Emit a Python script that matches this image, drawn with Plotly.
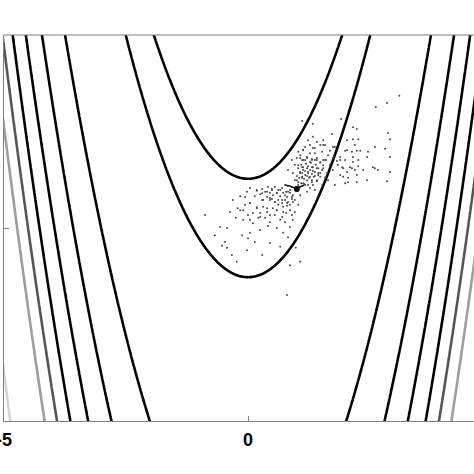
import numpy as np
import plotly.graph_objects as go

# ---- axis settings / tick labels ----
x_range = [-5.0, 4.631]
y_range = [-4.0, 4.0]
x_ticks = [-5, 0, 5]
x_ticklabels = ["-5", "0", "5"]
y_ticks = [0]

# ---- banana-shaped target: g(u, v) = v - curvature * u^2 ----
ridge_curvature = 0.8
contour_levels = [1.02, -1.02, -7.24, -10.26, -12.58, -14.6, -16.25, -17.9, -23.0]
contour_colors = ["#000000", "#000000", "#000000", "#000000", "#000000", "#000000",
                  "#555555", "#9d9d9d", "#d4d4d4"]

# ---- samples ----
sample_u = [3.10, 2.85, 2.62, 1.11, 1.33, 1.91, 2.15, 2.23, 1.72, 2.87, 2.91, 1.33, 1.23, 1.41, 1.54,
            1.58, 1.48, 1.27, 1.17, 1.33, 2.03, 2.15, 2.26, 2.19, 2.60, 2.81, 1.03, 1.13, 1.27, 1.37,
            1.52, 1.68, 1.74, 1.99, 2.13, 2.23, 2.30, 2.46, 2.44, 2.91, 1.00, 1.11, 1.21, 1.31, 1.41,
            1.54, 1.64, 1.74, 1.82, 1.89, 1.99, 2.15, 2.26, 2.09, 1.95, 1.84, 2.19, 2.36, 2.60, 2.66,
            2.91, 2.56, 2.26, 1.68, 1.74, 1.62, 1.89, 2.05, 2.23, 2.44, 2.85, 1.99,
            1.03, 1.09, 1.13, 1.19, 1.23, 1.29, 1.33, 1.39, 1.44, 1.07, 1.11, 1.17, 1.23, 1.27, 1.31,
            1.37, 1.44, 1.48, 1.00, 1.05, 1.11, 1.15, 1.21, 1.25, 1.31, 1.35, 1.41, 1.13, 1.21, 1.31,
            1.41, 1.03, 1.09, 1.15, 0.96, 0.92, 0.76, 0.82, 0.90, 0.96, 1.07, 1.11, 1.17,
            0.41, 0.49, 0.55, 0.62, 0.70, 0.45, 0.51, 0.59, 0.66, 0.72, 0.80, 0.86, 0.92, 0.76, 0.82,
            0.90, 0.62, 0.70, 0.55, 0.96, 0.86, 0.78, 0.39, 0.49,
            0.04, 0.18, 0.29, -0.31, -0.88, -0.37, -0.21, -0.10, 0.04, 0.10, 0.18, 0.25, 0.31, 0.39,
            0.51, 0.59, 0.72, 0.80, 0.86, -0.10, 0.10, 0.25, -0.57, -0.43, -0.68, -0.12, 0.04, 0.00,
            0.14, -0.47, -0.53, -0.43, -0.02, 0.45, 0.66, 0.59, 0.72, 0.82, 0.86, 0.92, 0.76, 0.70,
            0.86, 0.29, 0.80,
            -0.06, 0.35, 0.45, 0.55, 0.66, 0.41, 0.21, 0.00, -0.25, 0.96, 0.78, 0.62, 0.29, 0.14,
            0.25, 0.35, -0.02, -0.16, 0.45, 1.07, 1.03, 0.90, -0.33, -0.23, 1.07, 0.98,
            1.52, 1.64, 1.78, 1.58, 1.54, 1.48, 1.60, 0.96, 0.90, 1.07, 0.82, 1.27, 1.37, 1.21,
            1.03, 1.11, 1.13, 1.21, 1.23, 1.31, 1.33, 1.41, 1.44, 1.52, 1.07, 1.17, 1.27, 1.37, 1.48,
            1.11, 1.21, 1.31, 1.41, 1.13, 1.23, 1.33, 1.00, 1.03, 1.54, 1.58, 1.48, 1.37, 1.27, 1.17,
            1.07, 1.93, 2.03, 2.13, 1.95, 2.23, 2.05, 1.89, 2.15, 2.03, 1.78, 1.54, 1.37, 1.13,
            0.18, 0.29, 0.39, 0.49, 0.59, 0.66, 0.76, 0.82, 0.90, 0.31, 0.45, 0.55, 0.70, 0.80, 0.92,
            0.04, 0.18, 0.39, 0.59, 0.72, 0.86, -0.06, -0.16, 0.45, 0.25, 0.04]
sample_v = [2.74, 2.59, 2.51, 2.22, 2.16, 2.26, 2.09, 2.05, 1.95, 1.97, 1.84, 1.89, 1.82, 1.78, 1.82,
            1.72, 1.72, 1.72, 1.68, 1.66, 1.82, 1.84, 1.84, 1.72, 1.68, 1.64, 1.58, 1.62, 1.55, 1.55,
            1.58, 1.60, 1.68, 1.60, 1.58, 1.60, 1.60, 1.58, 1.47, 1.47, 1.45, 1.41, 1.47, 1.41, 1.45,
            1.41, 1.51, 1.45, 1.39, 1.47, 1.41, 1.37, 1.41, 1.26, 1.24, 1.31, 1.20, 1.20, 1.24, 1.20,
            1.16, 1.26, 1.28, 1.31, 1.20, 1.14, 1.10, 1.04, 0.95, 0.99, 0.97, 0.93,
            1.24, 1.31, 1.26, 1.33, 1.28, 1.35, 1.26, 1.31, 1.24, 1.16, 1.14, 1.18, 1.14, 1.20, 1.12,
            1.16, 1.10, 1.14, 1.08, 1.04, 1.06, 1.02, 1.08, 1.04, 0.99, 1.06, 0.97, 1.41, 1.45, 1.43,
            1.41, 0.95, 0.93, 0.91, 0.99, 1.14, 0.89, 0.87, 0.85, 0.83, 0.85, 0.87, 0.89,
            0.85, 0.81, 0.85, 0.79, 0.83, 0.73, 0.68, 0.73, 0.66, 0.73, 0.64, 0.73, 0.68, 0.58, 0.54,
            0.60, 0.58, 0.52, 0.54, 0.58, 0.79, 0.75, 0.64, 0.60,
            0.83, 0.77, 0.81, 0.58, 0.27, 0.33, 0.41, 0.37, 0.52, 0.31, 0.41, 0.31, 0.44, 0.33,
            0.41, 0.37, 0.44, 0.46, 0.48, 0.17, 0.10, -0.04, 0.02, 0.00, -0.15, -0.15, -0.10, -0.21,
            -0.29, -0.29, -0.37, -0.41, -0.46, -0.31, -0.39, 0.00, -0.10, -0.19, 0.02, 0.17, 0.12, 0.23,
            -0.77, -0.56, -1.39,
            0.48, 0.21, 0.12, 0.27, 0.17, 0.04, 0.21, 0.27, 0.21, 0.33, 0.31, 0.48, 0.58, 0.66,
            0.70, 0.75, 0.75, 0.66, 0.58, 0.68, 0.48, 0.27, -0.56, -0.70, -0.70, -0.41,
            0.89, 0.99, 0.89, 1.04, 1.24, 1.35, 1.41, 1.31, 1.41, 1.51, 1.20, 0.83, 0.79, 0.75,
            1.30, 1.26, 1.20, 1.24, 1.16, 1.26, 1.18, 1.24, 1.14, 1.20, 1.14, 1.10, 1.06, 1.08, 1.06,
            1.04, 0.99, 0.95, 0.99, 0.93, 0.89, 0.89, 0.99, 0.89, 1.30, 1.41, 1.37, 1.41, 1.37, 1.41,
            1.45, 1.26, 1.16, 1.24, 1.06, 1.10, 0.95, 1.41, 1.47, 1.61, 1.68, 1.72, 1.66, 1.61,
            0.79, 0.72, 0.75, 0.79, 0.72, 0.79, 0.68, 0.75, 0.64, 0.58, 0.62, 0.54, 0.58, 0.52, 0.54,
            0.52, 0.43, 0.41, 0.37, 0.33, 0.37, 0.64, 0.37, 0.27, 0.23, 0.17]

# dense streak through the chain's central point
streak_u = [0.76, 0.82, 0.86, 0.90, 0.94, 0.98, 1.02, 1.07, 1.11, 1.15]
streak_v = [0.89, 0.88, 0.87, 0.85, 0.84, 0.83, 0.84, 0.85, 0.87, 0.89]
center_u = [1.00]
center_v = [0.81]

# ---- contour grid ----
u = np.linspace(-5.3, 4.9, 521)
v = np.linspace(-4.3, 4.3, 431)
U, V = np.meshgrid(u, v)
G = V - ridge_curvature * U ** 2

fig = go.Figure()
for lev, col in zip(contour_levels, contour_colors):
    fig.add_trace(go.Contour(
        x=u, y=v, z=G,
        contours=dict(start=lev, end=lev, size=1, coloring="none", showlabels=False),
        line=dict(color=col, width=2.6, smoothing=1),
        showscale=False, hoverinfo="skip",
    ))

fig.add_trace(go.Scatter(
    x=sample_u, y=sample_v, mode="markers",
    marker=dict(size=2.0, color="#4a4a4a", line=dict(width=0)),
    hoverinfo="skip", showlegend=False,
))
fig.add_trace(go.Scatter(
    x=streak_u, y=streak_v, mode="lines",
    line=dict(color="#222222", width=1.5),
    hoverinfo="skip", showlegend=False,
))
fig.add_trace(go.Scatter(
    x=center_u, y=center_v, mode="markers",
    marker=dict(size=6, color="#000000", line=dict(width=0)),
    hoverinfo="skip", showlegend=False,
))

axis_gray = "#808080"
fig.update_layout(
    width=474, height=474,
    margin=dict(l=4, r=0, t=35, b=53, pad=0),
    paper_bgcolor="white", plot_bgcolor="white",
    showlegend=False,
    xaxis=dict(
        range=x_range, tickvals=x_ticks, ticktext=x_ticklabels,
        showgrid=False, zeroline=False,
        showline=True, linecolor=axis_gray, linewidth=1,
        ticks="inside", ticklen=5, tickcolor=axis_gray, tickwidth=1,
        tickfont=dict(family="Liberation Sans, Arial, sans-serif", size=18, color="black", weight="bold"),
        ticklabeloverflow="allow", ticklabelstandoff=2,
        automargin=False,
    ),
    yaxis=dict(
        range=y_range, tickvals=y_ticks,
        showgrid=False, zeroline=False,
        showline=True, linecolor=axis_gray, linewidth=1,
        ticks="inside", ticklen=5, tickcolor=axis_gray, tickwidth=1,
        showticklabels=False, automargin=False,
    ),
    shapes=[dict(type="line", xref="paper", yref="paper", x0=0, x1=1, y0=1, y1=1,
                 line=dict(color=axis_gray, width=1))],
)

fig.write_html("out.html", config={"displayModeBar": False},
               post_script="document.body.style.margin='0';document.body.style.overflow='hidden';")
